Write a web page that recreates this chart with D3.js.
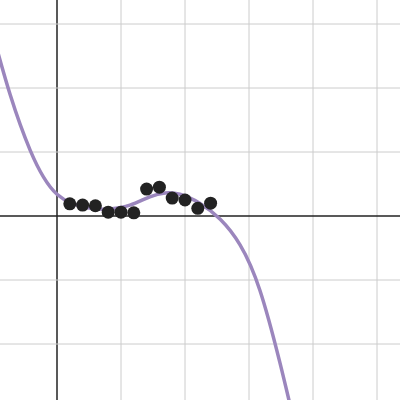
<!DOCTYPE html>
<html><head><meta charset="utf-8">
<script src="https://cdn.jsdelivr.net/npm/d3@7"></script>
<style>body{margin:0;background:#fff}</style>
</head><body>
<div id="chart"></div>
<script>
// scatter points (data units)
var pointX = [0.2, 0.4, 0.6, 0.8, 1.0, 1.2, 1.4, 1.6, 1.8, 2.0, 2.2, 2.4];
var pointY = [0.19, 0.17, 0.16, 0.06, 0.06, 0.05, 0.42, 0.45, 0.28, 0.25, 0.12, 0.2];

// fitted curve
var curveX = [-0.95, -0.73, -0.42, 0, 0.52, 0.83, 1.14, 1.45, 1.69, 1.92, 2.23, 2.55, 2.86, 3.17, 3.48, 3.7];
var curveY = [2.65, 1.89, 1.03, 0.34, 0.12, 0.11, 0.17, 0.30, 0.36, 0.34, 0.20, -0.05, -0.45, -1.16, -2.28, -3.2];

var gridX = [-1, 0, 1, 2, 3, 4, 5];
var gridY = [-3, -2, -1, 0, 1, 2, 3];

const width = 400, height = 400;

var x = d3.scaleLinear().domain([-57/64, (400-57)/64]).range([0, width]);
var y = d3.scaleLinear().domain([-184/64, 216/64]).range([height, 0]);

var svg = d3.select("#chart").append("svg")
    .attr("width", width).attr("height", height);

// grid
svg.selectAll(".gx").data(gridX).enter().append("line")
    .attr("x1", d => x(d)).attr("x2", d => x(d))
    .attr("y1", 0).attr("y2", height)
    .attr("stroke", d => d === 0 ? "#222" : "#ccc")
    .attr("stroke-width", d => d === 0 ? 1.5 : 1);
svg.selectAll(".gy").data(gridY).enter().append("line")
    .attr("y1", d => y(d)).attr("y2", d => y(d))
    .attr("x1", 0).attr("x2", width)
    .attr("stroke", d => d === 0 ? "#222" : "#ccc")
    .attr("stroke-width", d => d === 0 ? 1.5 : 1);

// curve
var line = d3.line()
    .x(d => x(d[0])).y(d => y(d[1]))
    .curve(d3.curveNatural);
svg.append("path")
    .datum(d3.zip(curveX, curveY))
    .attr("d", line)
    .attr("fill", "none")
    .attr("stroke", "#9b86bd")
    .attr("stroke-width", 3.5);

// points
svg.selectAll("circle").data(d3.zip(pointX, pointY)).enter().append("circle")
    .attr("cx", d => x(d[0])).attr("cy", d => y(d[1]))
    .attr("r", 6.5)
    .attr("fill", "#222");
</script>
</body></html>
